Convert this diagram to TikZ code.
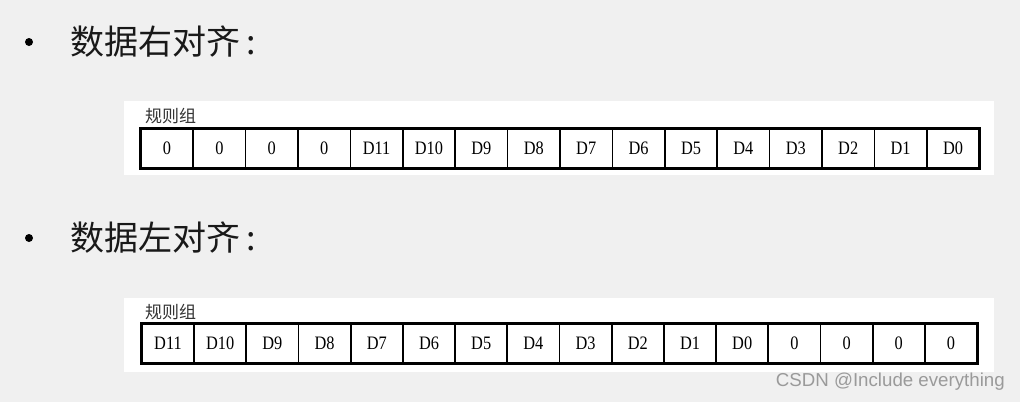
\documentclass[tikz,border=0pt]{standalone}
\usepackage{fontspec}
\setmainfont{Liberation Serif}
\newfontfamily\cjksans{Noto Sans CJK SC}
\newfontfamily\cellfont[FakeStretch=0.86]{Liberation Serif}
\newfontfamily\wmfont{Liberation Sans}
\definecolor{bggray}{HTML}{F0F0F0}
\definecolor{wmgray}{HTML}{9A9A9A}
\definecolor{labgray}{HTML}{333333}

\tikzset{
  heading/.style={anchor=west,inner sep=0pt,font=\cjksans\fontsize{34}{34}\selectfont,text=black!90},
  regcell/.style={draw,line width=1.6pt,minimum width=52.4pt,minimum height=39pt,inner sep=0pt,anchor=north west,font=\cellfont\fontsize{19}{19}\selectfont},
  grouplabel/.style={anchor=west,inner sep=0pt,font=\cjksans\fontsize{17}{17}\selectfont,text=labgray},
  panel/.style={fill=white,draw=none}
}

\begin{document}
\begin{tikzpicture}[x=1pt,y=-1pt]
        % Background
        \fill[bggray] (0,0) rectangle (1020,402);
        \useasboundingbox (0,0) rectangle (1020,402);

        % Right aligned
        \node[circle,fill=black,inner sep=0pt,minimum size=8pt] (bulletR) at (29,42) {};
        \node[heading] (titleR) at (70,42) {数据右对齐\hspace{6pt}:};
        \fill[panel] (124,101) rectangle (994,175);
        \node[grouplabel] (groupR) at (145,116) {规则组};
        \foreach \lab [count=\i from 0] in {0,0,0,0,D11,D10,D9,D8,D7,D6,D5,D4,D3,D2,D1,D0}
          \node[regcell] (r\i) at ({140+52.4*\i},128) {\lab};
        \draw[line width=2.2pt] (r0.north west) rectangle (r15.south east);

        % Left aligned
        \node[circle,fill=black,inner sep=0pt,minimum size=8pt] (bulletL) at (29,238) {};
        \node[heading] (titleL) at (70,238) {数据左对齐\hspace{6pt}:};
        \fill[panel] (124,298) rectangle (994,372);
        \node[grouplabel] (groupL) at (145,312) {规则组};
        \foreach \lab [count=\i from 0] in {D11,D10,D9,D8,D7,D6,D5,D4,D3,D2,D1,D0,0,0,0,0}
          \node[regcell] (l\i) at ({141+52.2*\i},323) {\lab};
        \draw[line width=2.2pt] (l0.north west) rectangle (l15.south east);

        % Watermark
        \node[anchor=east,inner sep=0pt,font=\wmfont\fontsize{18.7}{18.7}\selectfont,text=wmgray] (mark) at (1005,382) {CSDN @Include everything};
\end{tikzpicture}
\end{document}
